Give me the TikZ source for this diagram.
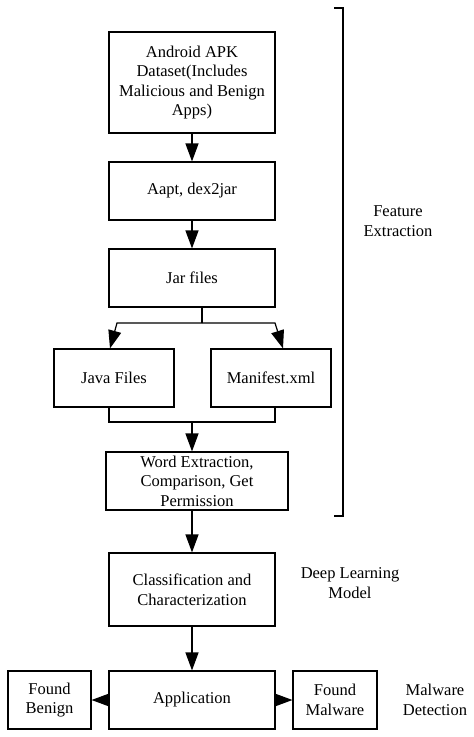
\documentclass[tikz,border=0pt]{standalone}
\usepackage{fontspec}
\setmainfont{Liberation Serif}
\usepackage{tikz}
\usetikzlibrary{arrows.meta,positioning,calc}

\tikzset{
    box/.style={draw, line width=1.1pt, align=center, font=\fontsize{16.5}{19.6}\selectfont, inner sep=1pt},
    lbl/.style={align=center, font=\fontsize{16.5}{19.6}\selectfont},
    flow/.style={line width=1.2pt},
    arr/.style={flow, -{Triangle[length=18pt,width=13pt]}}
}

\begin{document}
\begin{tikzpicture}[x=1pt, y=-1pt]
    \useasboundingbox (0,0) rectangle (474,737);

    % Feature extraction stage
    \node[box, minimum width=166, minimum height=101] (apk) at (192,82.5)
        {Android APK\\Dataset(Includes\\Malicious and Benign\\Apps)};
    \node[box, minimum width=166, minimum height=58] (aapt) at (192,191) {Aapt, dex2jar};
    \node[box, minimum width=166, minimum height=58] (jar) at (192,278) {Jar files};
    \node[box, minimum width=120, minimum height=58] (java) at (114,378) {Java Files};
    \node[box, minimum width=120, minimum height=58] (manifest) at (271,378) {Manifest.xml};
    \node[box, minimum width=182, minimum height=58] (word) at (197,481)
        {Word Extraction,\\Comparison, Get\\Permission};

    % Deep learning and detection
    \node[box, minimum width=166, minimum height=73] (classif) at (192,589.5)
        {Classification and\\Characterization};
    \node[box, minimum width=166, minimum height=58] (app) at (192,700) {Application};
    \node[box, minimum width=83, minimum height=58] (benign) at (49.5,700) {Found\\Benign};
    \node[box, minimum width=84, minimum height=58] (malware) at (335,700) {Found\\Malware};

    % Stage labels
    \node[lbl] (featlbl) at (398,221) {Feature\\Extraction};
    \node[lbl] (deeplbl) at (350,583) {Deep Learning\\Model};
    \node[lbl] (detlbl) at (435,700) {Malware\\Detection};

    % Arrows
    \draw[arr] (apk) -- (aapt);
    \draw[arr] (aapt) -- (jar);

    % Split into java and manifest
    \coordinate (split) at (202,323);
    \draw[flow] (split |- jar.south) -- (split);
    \draw[arr] (split) -- ++(-85,0) -- ([xshift=-4pt]java.north);
    \draw[arr] (split) -- ++(73,0) -- ([xshift=12pt]manifest.north);

    % Merge into word extraction
    \coordinate (jl) at (109,422);
    \coordinate (mr) at (275,422);
    \coordinate (merge) at (192,422);
    \draw[flow] (jl |- java.south) -- (jl) -- (mr) -- (mr |- manifest.south);
    \draw[arr] (merge) -- (merge |- word.north);

    \draw[arr] (classif.north |- word.south) -- (classif.north);
    \draw[arr] (classif) -- (app);
    \draw[arr] (app) -- (benign);
    \draw[arr] (app) -- (malware);

    % Bracket
    \draw[line width=2.5pt] (334,8) -- (343,8) -- (343,516) -- (334,516);
\end{tikzpicture}
\end{document}
